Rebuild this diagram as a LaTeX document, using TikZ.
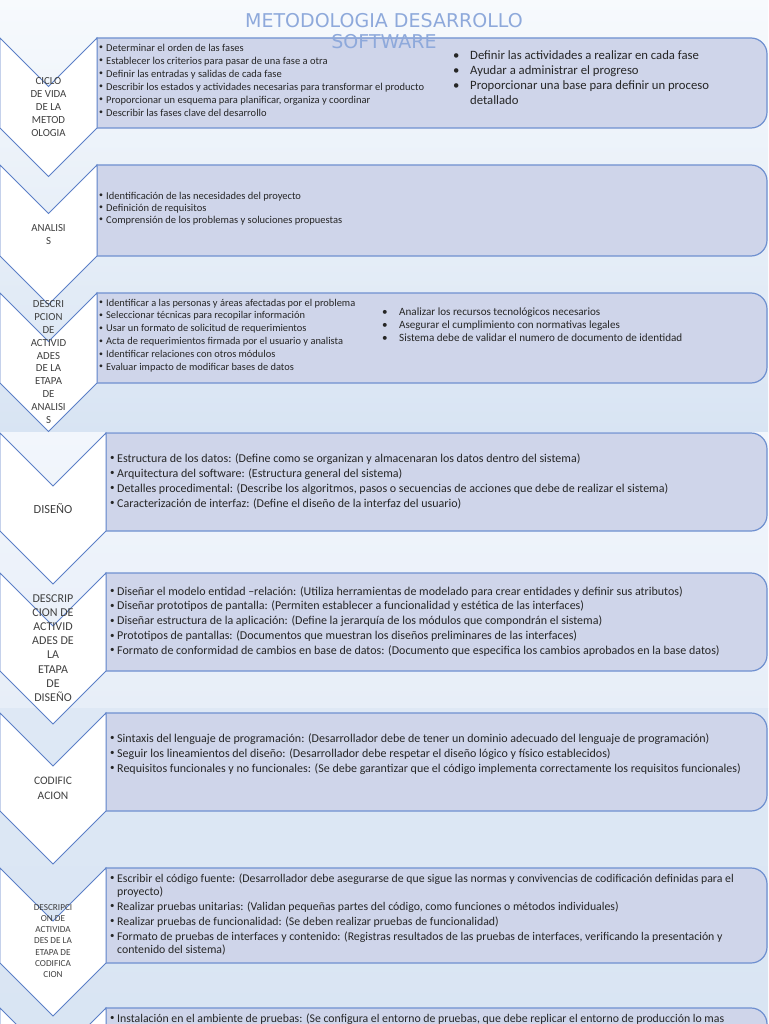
\documentclass[tikz,border=0pt]{standalone}
\usepackage{fontspec}
\setmainfont{Carlito}
\newfontfamily\titlefont{DejaVu Sans}
\usepackage{tikz}
\definecolor{titleblue}{HTML}{8EA9DB}
\definecolor{boxfill}{HTML}{CFD5EA}
\definecolor{boxedge}{HTML}{6F90D0}
\definecolor{chevedge}{HTML}{5B7FC7}
\definecolor{labelgray}{HTML}{404040}
\definecolor{textdark}{HTML}{262626}
\definecolor{bgtop}{HTML}{F7FAFD}
\definecolor{bgmid}{HTML}{D8E4F3}
\definecolor{bglight}{HTML}{F2F6FC}
\definecolor{bglightend}{HTML}{E7EEF8}
\definecolor{bgdark}{HTML}{DEE8F5}
\definecolor{bgdarkend}{HTML}{D9E5F3}
\newcommand{\bul}{\makebox[7pt][l]{\raisebox{.25ex}{\scalebox{.75}{\textbullet}}}}
\newcommand{\bigbul}[1]{\makebox[#1][l]{\textbullet}}
\newcommand{\cont}{\hspace*{7pt}}
\newcommand{\rowbox}[3]{%
  \draw[boxst] (#1,#2) -- (751,#2) .. controls (759.8,#2) and (767,#2+7.2) .. (767,#2+16)
    -- (767,#3-16) .. controls (767,#3-7.2) and (759.8,#3) .. (751,#3) -- (#1,#3) -- cycle;}

\begin{document}
\begin{tikzpicture}[x=1pt, y=-1pt,
  boxst/.style={draw=boxedge, fill=boxfill, line width=1.2pt},
  chev/.style={draw=chevedge, fill=white, line width=0.9pt, line join=miter},
  lbl/.style={text=labelgray, align=center, inner sep=0pt},
  txt/.style={anchor=north west, align=left, inner sep=0pt, text=textdark}
]
  \clip (0,0) rectangle (768,1024);
  \shade[top color=bgtop, bottom color=bgmid] (0,0) rectangle (768,432);
  \shade[top color=bglight, bottom color=bglightend] (0,432) rectangle (768,708);
  \shade[top color=bgdark, bottom color=bgdarkend] (0,708) rectangle (768,1024);

  \rowbox{97}{38}{128}
  \rowbox{97}{165}{256}
  \rowbox{97}{293}{383}
  \rowbox{106}{433}{531}
  \rowbox{106}{573}{671}
  \rowbox{106}{713}{811}
  \rowbox{106}{868}{963}
  \rowbox{106}{1008}{1110}

  \draw[chev] (0,38) -- (48.5,86.5) -- (97,38) -- (97,128) -- (48.5,176.5) -- (0,128) -- cycle;
  \draw[chev] (0,165) -- (48.5,213.5) -- (97,165) -- (97,256) -- (48.5,304.5) -- (0,256) -- cycle;
  \draw[chev] (0,293) -- (48.5,341.5) -- (97,293) -- (97,383) -- (48.5,431.5) -- (0,383) -- cycle;
  \draw[chev] (0,433) -- (53,486) -- (106,433) -- (106,531) -- (53,584) -- (0,531) -- cycle;
  \draw[chev] (0,573) -- (53,626) -- (106,573) -- (106,671) -- (53,724) -- (0,671) -- cycle;
  \draw[chev] (0,713) -- (53,766) -- (106,713) -- (106,811) -- (53,864) -- (0,811) -- cycle;
  \draw[chev] (0,868) -- (53,921) -- (106,868) -- (106,963) -- (53,1016) -- (0,963) -- cycle;
  \draw[chev] (0,1008) -- (53,1061) -- (106,1008) -- (106,1110) -- (0,1110) -- cycle;

  \node[lbl, font=\fontsize{10.8}{13}\selectfont] (ciclo) at (48.5,107) {CICLO\\DE VIDA\\DE LA\\METOD\\OLOGIA};
  \node[lbl, font=\fontsize{10.8}{13.5}\selectfont] (analisis) at (48.5,234.5) {ANALISI\\S};
  \node[lbl, font=\fontsize{10.8}{12.8}\selectfont] (descanalisis) at (48.5,362) {DESCRI\\PCION\\DE\\ACTIVID\\ADES\\DE LA\\ETAPA\\DE\\ANALISI\\S};
  \node[lbl, font=\fontsize{12.4}{14}\selectfont] (diseno) at (53,508.5) {DISEÑO};
  \node[lbl, font=\fontsize{12}{14.2}\selectfont] (descdiseno) at (53,648) {DESCRIP\\CION DE\\ACTIVID\\ADES DE\\LA\\ETAPA\\DE\\DISEÑO};
  \node[lbl, font=\fontsize{11.5}{15}\selectfont] (codif) at (53,788.5) {CODIFIC\\ACION};
  \node[lbl, font=\fontsize{9.2}{11.2}\selectfont] (desccodif) at (53,941) {DESCRIPCI\\ON DE\\ACTIVIDA\\DES DE LA\\ETAPA DE\\CODIFICA\\CION};

  \node[txt, font=\fontsize{10.5}{13}\selectfont] (cicloizq) at (99,43.6) {\bul Determinar el orden de las fases\\\bul Establecer los criterios para pasar de una fase a otra\\\bul Definir las entradas y salidas de cada fase\\\bul Describir los estados y actividades necesarias para transformar el producto\\\bul Proporcionar un esquema para planificar, organiza y coordinar\\\bul Describir las fases clave del desarrollo};
  \node[txt, font=\fontsize{12.7}{15}\selectfont] (cicloder) at (453,50.9) {\bigbul{17pt}Definir las actividades a realizar en cada fase\\\bigbul{17pt}Ayudar a administrar el progreso\\\bigbul{17pt}Proporcionar una base para definir un proceso\\\hspace*{17pt}detallado};
  \node[txt, font=\fontsize{10.5}{12}\selectfont] (analisistxt) at (99,191.6) {\bul Identificación de las necesidades del proyecto\\\bul Definición de requisitos\\\bul Comprensión de los problemas y soluciones propuestas};
  \node[txt, font=\fontsize{10.4}{12.8}\selectfont] (descanalizq) at (99,298.7) {\bul Identificar a las personas y áreas afectadas por el problema\\\bul Seleccionar técnicas para recopilar información\\\bul Usar un formato de solicitud de requerimientos\\\bul Acta de requerimientos firmada por el usuario y analista\\\bul Identificar relaciones con otros módulos\\\bul Evaluar impacto de modificar bases de datos};
  \node[txt, font=\fontsize{11.1}{13}\selectfont] (descanalder) at (382,307.4) {\bigbul{17pt}Analizar los recursos tecnológicos necesarios\\\bigbul{17pt}Asegurar el cumplimiento con normativas legales\\\bigbul{17pt}Sistema debe de validar el numero de documento de identidad};
  \node[txt, font=\fontsize{12}{15}\selectfont] (disenotxt) at (110,453.2) {\bul Estructura de los datos: (Define como se organizan y almacenaran los datos dentro del sistema)\\\bul Arquitectura del software: (Estructura general del sistema)\\\bul Detalles procedimental: (Describe los algoritmos, pasos o secuencias de acciones que debe de realizar el sistema)\\\bul Caracterización de interfaz: (Define el diseño de la interfaz del usuario)};
  \node[txt, font=\fontsize{12}{14.8}\selectfont] (descdisenotxt) at (110,586.2) {\bul Diseñar el modelo entidad –relación: (Utiliza herramientas de modelado para crear entidades y definir sus atributos)\\\bul Diseñar prototipos de pantalla: (Permiten establecer a funcionalidad y estética de las interfaces)\\\bul Diseñar estructura de la aplicación: (Define la jerarquía de los módulos que compondrán el sistema)\\\bul Prototipos de pantallas: (Documentos que muestran los diseños preliminares de las interfaces)\\\bul Formato de conformidad de cambios en base de datos: (Documento que especifica los cambios aprobados en la base datos)};
  \node[txt, font=\fontsize{12}{15}\selectfont] (codiftxt) at (110,733.2) {\bul Sintaxis del lenguaje de programación: (Desarrollador debe de tener un dominio adecuado del lenguaje de programación)\\\bul Seguir los lineamientos del diseño: (Desarrollador debe respetar el diseño lógico y físico establecidos)\\\bul Requisitos funcionales y no funcionales: (Se debe garantizar que el código implementa correctamente los requisitos funcionales)};
  \node[txt, font=\fontsize{11.8}{13}\selectfont] (desccodiftxt) at (110,873.2) {\bul Escribir el código fuente: (Desarrollador debe asegurarse de que sigue las normas y convivencias de codificación definidas para el\\\cont proyecto)\\[2pt]\bul Realizar pruebas unitarias: (Validan pequeñas partes del código, como funciones o métodos individuales)\\[2pt]\bul Realizar pruebas de funcionalidad: (Se deben realizar pruebas de funcionalidad)\\[2pt]\bul Formato de pruebas de interfaces y contenido: (Registras resultados de las pruebas de interfaces, verificando la presentación y\\\cont contenido del sistema)};
  \node[txt, font=\fontsize{11.8}{13}\selectfont] (pruebastxt) at (110,1013.2) {\bul Instalación en el ambiente de pruebas: (Se configura el entorno de pruebas, que debe replicar el entorno de producción lo mas};

  \node[text=titleblue, align=center, inner sep=0pt, font=\titlefont\fontsize{19}{21}\selectfont] (titulo) at (384,31.5) {METODOLOGIA DESARROLLO\\SOFTWARE};
\end{tikzpicture}
\end{document}
